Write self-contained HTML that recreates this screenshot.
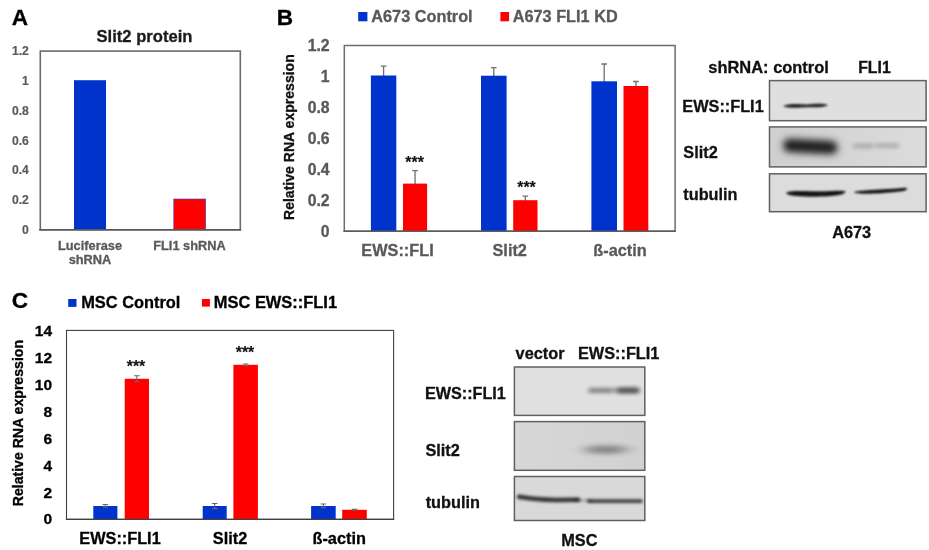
<!DOCTYPE html>
<html><head><meta charset="utf-8"><title>Figure</title>
<style>html,body{margin:0;padding:0;background:#fff}svg{display:block;filter:blur(0.45px)}</style></head>
<body>
<svg width="929" height="550" viewBox="0 0 929 550" font-family="Liberation Sans, sans-serif" font-weight="bold">
<defs>
<linearGradient id="g5"><stop offset="0" stop-color="#d7d7d7"/><stop offset="1" stop-color="#d1d1d1"/></linearGradient>
<linearGradient id="g2"><stop offset="0" stop-color="#d0d0d0"/><stop offset="0.55" stop-color="#d6d6d6"/><stop offset="1" stop-color="#dcdcdc"/></linearGradient>
<filter id="b1" x="-20%" y="-300%" width="140%" height="700%"><feGaussianBlur stdDeviation="1.3"/></filter>
<filter id="b2" x="-20%" y="-300%" width="140%" height="700%"><feGaussianBlur stdDeviation="2.2"/></filter>
<filter id="b3" x="-20%" y="-100%" width="140%" height="300%"><feGaussianBlur stdDeviation="3"/></filter>
<filter id="b4" x="-30%" y="-200%" width="160%" height="500%"><feGaussianBlur stdDeviation="4.5"/></filter>
<filter id="b5" x="-40%" y="-300%" width="180%" height="700%"><feGaussianBlur stdDeviation="6 2.8"/></filter>
<filter id="b6" x="-20%" y="-300%" width="140%" height="700%"><feGaussianBlur stdDeviation="1.8"/></filter>
<filter id="b7" x="-30%" y="-300%" width="160%" height="700%"><feGaussianBlur stdDeviation="2.8 2.2"/></filter>
</defs>
<rect width="929" height="550" fill="#fff"/>
<text x="11.8" y="24.6" font-size="22.6" fill="#000" stroke="#000" stroke-width="0.3" text-anchor="start" >A</text>
<text x="144.5" y="42" font-size="16.6" fill="#1a1a1a" stroke="#1a1a1a" stroke-width="0.3" text-anchor="middle" >Slit2 protein</text>
<rect x="40.3" y="51.1" width="200" height="178.7" fill="#fff" stroke="#6a6a6a" stroke-width="1.6"/>
<text x="28.9" y="55.269999999999996" font-size="12.2" fill="#595959" stroke="#595959" stroke-width="0.15" text-anchor="end" >1.2</text>
<text x="28.9" y="85.05000000000001" font-size="12.2" fill="#595959" stroke="#595959" stroke-width="0.15" text-anchor="end" >1</text>
<text x="28.9" y="114.83000000000001" font-size="12.2" fill="#595959" stroke="#595959" stroke-width="0.15" text-anchor="end" >0.8</text>
<text x="28.9" y="144.61" font-size="12.2" fill="#595959" stroke="#595959" stroke-width="0.15" text-anchor="end" >0.6</text>
<text x="28.9" y="174.39000000000001" font-size="12.2" fill="#595959" stroke="#595959" stroke-width="0.15" text-anchor="end" >0.4</text>
<text x="28.9" y="204.17000000000002" font-size="12.2" fill="#595959" stroke="#595959" stroke-width="0.15" text-anchor="end" >0.2</text>
<text x="28.9" y="233.95000000000002" font-size="12.2" fill="#595959" stroke="#595959" stroke-width="0.15" text-anchor="end" >0</text>
<rect x="74.00" y="80.20" width="32.00" height="149.60" fill="#0033cc" />
<rect x="173.80" y="199.00" width="31.90" height="30.80" fill="#ff0000" stroke="#3344cc" stroke-width="0.6"/>
<line x1="39" y1="229.8" x2="241.1" y2="229.8" stroke="#585858" stroke-width="1.5"/>
<text x="90" y="249.5" font-size="12.8" fill="#595959" stroke="#595959" stroke-width="0.3" text-anchor="middle" >Luciferase</text>
<text x="90" y="264.2" font-size="12.8" fill="#595959" stroke="#595959" stroke-width="0.3" text-anchor="middle" >shRNA</text>
<text x="189.5" y="249.5" font-size="12.8" fill="#595959" stroke="#595959" stroke-width="0.3" text-anchor="middle" >FLI1 shRNA</text>
<text x="276.8" y="24.6" font-size="22.6" fill="#000" stroke="#000" stroke-width="0.3" text-anchor="start" >B</text>
<rect x="358.20" y="12.00" width="9.20" height="9.30" fill="#0033cc" />
<text x="371.3" y="22.4" font-size="16.3" fill="#595959" stroke="#595959" stroke-width="0.3" text-anchor="start" >A673 Control</text>
<rect x="500.40" y="12.00" width="8.70" height="9.30" fill="#ff0000" />
<text x="512.7" y="22.4" font-size="16.3" fill="#595959" stroke="#595959" stroke-width="0.3" text-anchor="start" >A673 FLI1 KD</text>
<rect x="344.3" y="45.5" width="330.8" height="185.7" fill="#fff" stroke="#6c6c6c" stroke-width="1.5"/>
<text x="329.6" y="51.0" font-size="15.8" fill="#595959" stroke="#595959" stroke-width="0.3" text-anchor="end" >1.2</text>
<text x="329.6" y="81.95" font-size="15.8" fill="#595959" stroke="#595959" stroke-width="0.3" text-anchor="end" >1</text>
<text x="329.6" y="112.9" font-size="15.8" fill="#595959" stroke="#595959" stroke-width="0.3" text-anchor="end" >0.8</text>
<text x="329.6" y="143.85" font-size="15.8" fill="#595959" stroke="#595959" stroke-width="0.3" text-anchor="end" >0.6</text>
<text x="329.6" y="174.8" font-size="15.8" fill="#595959" stroke="#595959" stroke-width="0.3" text-anchor="end" >0.4</text>
<text x="329.6" y="205.75" font-size="15.8" fill="#595959" stroke="#595959" stroke-width="0.3" text-anchor="end" >0.2</text>
<text x="329.6" y="236.7" font-size="15.8" fill="#595959" stroke="#595959" stroke-width="0.3" text-anchor="end" >0</text>
<path d="M380.80 66.20H386.40M383.60 66.20V76.50" stroke="#707070" stroke-width="1.3" fill="none"/>
<rect x="370.90" y="75.50" width="25.40" height="155.80" fill="#0033cc" />
<path d="M412.25 170.60H417.85M415.05 170.60V184.60" stroke="#707070" stroke-width="1.3" fill="none"/>
<rect x="403.00" y="183.60" width="24.10" height="47.70" fill="#ff0000" />
<path d="M491.00 67.70H496.60M493.80 67.70V76.70" stroke="#707070" stroke-width="1.3" fill="none"/>
<rect x="481.00" y="75.70" width="25.60" height="155.60" fill="#0033cc" />
<path d="M522.55 196.20H528.15M525.35 196.20V201.20" stroke="#707070" stroke-width="1.3" fill="none"/>
<rect x="513.20" y="200.20" width="24.30" height="31.10" fill="#ff0000" />
<path d="M601.40 64.00H607.00M604.20 64.00V82.30" stroke="#707070" stroke-width="1.3" fill="none"/>
<rect x="591.40" y="81.30" width="25.60" height="150.00" fill="#0033cc" />
<path d="M633.10 81.50H638.70M635.90 81.50V87.00" stroke="#707070" stroke-width="1.3" fill="none"/>
<rect x="623.50" y="86.00" width="24.80" height="145.30" fill="#ff0000" />
<line x1="343.5" y1="231.3" x2="675.9" y2="231.3" stroke="#5c5c5c" stroke-width="1.4"/>
<text x="414.6" y="168" font-size="15.9" fill="#111" stroke="#111" stroke-width="0.15" text-anchor="middle" >***</text>
<text x="526.5" y="193" font-size="15.9" fill="#111" stroke="#111" stroke-width="0.15" text-anchor="middle" >***</text>
<text x="397.5" y="255.9" font-size="16.3" fill="#595959" stroke="#595959" stroke-width="0.3" text-anchor="middle" >EWS::FLI</text>
<text x="509.7" y="255.9" font-size="16.3" fill="#595959" stroke="#595959" stroke-width="0.3" text-anchor="middle" >Slit2</text>
<text x="620" y="255.9" font-size="16.3" fill="#595959" stroke="#595959" stroke-width="0.3" text-anchor="middle" >ß-actin</text>
<text transform="translate(294,220) rotate(-90)" font-size="14.05" fill="#111" stroke="#111" stroke-width="0.3">Relative RNA expression</text>
<text x="708.3" y="72.5" font-size="16.45" fill="#111" stroke="#111" stroke-width="0.3" text-anchor="start" >shRNA: control</text>
<text x="858.2" y="72.5" font-size="15.8" fill="#111" stroke="#111" stroke-width="0.3" text-anchor="start" >FLI1</text>
<text x="682.3" y="112" font-size="16.3" fill="#111" stroke="#111" stroke-width="0.3" text-anchor="start" >EWS::FLI1</text>
<text x="683.3" y="157.6" font-size="16.3" fill="#111" stroke="#111" stroke-width="0.3" text-anchor="start" >Slit2</text>
<text x="683.3" y="200" font-size="16.3" fill="#111" stroke="#111" stroke-width="0.3" text-anchor="start" >tubulin</text>
<text x="851.7" y="237.6" font-size="16.3" fill="#111" stroke="#111" stroke-width="0.3" text-anchor="middle" >A673</text>
<clipPath id="c1"><rect x="769.5" y="80.6" width="156.60" height="40.10"/></clipPath>
<rect x="769.5" y="80.6" width="156.60" height="40.10" fill="#dfdfdf"/>
<g clip-path="url(#c1)"><path d="M783 106 C789 103.2 800 104.3 806 104.5 C812 104.1 822 102.6 828.5 105 C822 108.3 812 107.1 806 107.3 C800 107.7 789 108.8 783 106Z" fill="#000" opacity="0.85" filter="url(#b1)"/></g>
<rect x="769.5" y="80.6" width="156.60" height="40.10" fill="none" stroke="#606060" stroke-width="1.5"/>
<clipPath id="c2"><rect x="769.5" y="126.9" width="156.60" height="40.00"/></clipPath>
<rect x="769.5" y="126.9" width="156.60" height="40.00" fill="url(#g2)"/>
<g clip-path="url(#c2)"><rect x="781" y="138.6" width="59.00" height="16" rx="8.0" fill="#000" opacity="0.25" filter="url(#b4)" transform="rotate(3 810.5 146.6)"/></g>
<g clip-path="url(#c2)"><rect x="784" y="140.6" width="52.50" height="12" rx="6.0" fill="#000" opacity="0.8" filter="url(#b3)" transform="rotate(3 810.25 146.6)"/></g>
<g clip-path="url(#c2)"><rect x="852" y="144.2" width="22.00" height="3.6" rx="1.8" fill="#000" opacity="0.2" filter="url(#b2)" transform="rotate(0 863.0 146)"/></g>
<g clip-path="url(#c2)"><rect x="876" y="143.79999999999998" width="24.00" height="3.6" rx="1.8" fill="#000" opacity="0.18" filter="url(#b2)" transform="rotate(0 888.0 145.6)"/></g>
<g clip-path="url(#c2)"><rect x="856" y="144.55" width="42.00" height="2.5" rx="1.25" fill="#000" opacity="0.1" filter="url(#b2)" transform="rotate(0 877.0 145.8)"/></g>
<rect x="769.5" y="126.9" width="156.60" height="40.00" fill="none" stroke="#606060" stroke-width="1.5"/>
<clipPath id="c3"><rect x="769.5" y="173.8" width="156.60" height="37.90"/></clipPath>
<rect x="769.5" y="173.8" width="156.60" height="37.90" fill="#dcdcdc"/>
<g clip-path="url(#c3)"><path d="M786 193 C788 190.4 800 191 815 191.3 C830 191.3 842 189.8 845.5 191.3 C845.5 195.6 830 196.7 815 196.7 C800 196.7 788 196.2 786 193Z" fill="#000" opacity="0.9" filter="url(#b1)"/></g>
<g clip-path="url(#c3)"><path d="M853.5 192.3 C856 190.2 880 189.8 906.5 187.7 C908 189.5 906 190.9 900 191.5 C880 193.8 858 194.8 853.5 192.3Z" fill="#000" opacity="0.9" filter="url(#b1)"/></g>
<rect x="769.5" y="173.8" width="156.60" height="37.90" fill="none" stroke="#606060" stroke-width="1.5"/>
<text x="11.8" y="308.4" font-size="22.6" fill="#000" stroke="#000" stroke-width="0.3" text-anchor="start" >C</text>
<rect x="68.20" y="299.00" width="8.30" height="7.90" fill="#0033cc" />
<text x="81.2" y="308.3" font-size="16.4" fill="#000" stroke="#000" stroke-width="0.3" text-anchor="start" >MSC Control</text>
<rect x="201.90" y="299.00" width="8.00" height="7.60" fill="#ff0000" />
<text x="213.8" y="308.3" font-size="16.45" fill="#000" stroke="#000" stroke-width="0.3" text-anchor="start" >MSC EWS::FLI1</text>
<rect x="66.5" y="330.4" width="327.1" height="188.9" fill="#fff" stroke="#404040" stroke-width="1.1"/>
<text x="52.1" y="336.25" font-size="15.5" fill="#000" stroke="#000" stroke-width="0.3" text-anchor="end" >14</text>
<text x="52.1" y="363.136" font-size="15.5" fill="#000" stroke="#000" stroke-width="0.3" text-anchor="end" >12</text>
<text x="52.1" y="390.022" font-size="15.5" fill="#000" stroke="#000" stroke-width="0.3" text-anchor="end" >10</text>
<text x="52.1" y="416.908" font-size="15.5" fill="#000" stroke="#000" stroke-width="0.3" text-anchor="end" >8</text>
<text x="52.1" y="443.794" font-size="15.5" fill="#000" stroke="#000" stroke-width="0.3" text-anchor="end" >6</text>
<text x="52.1" y="470.68" font-size="15.5" fill="#000" stroke="#000" stroke-width="0.3" text-anchor="end" >4</text>
<text x="52.1" y="497.56600000000003" font-size="15.5" fill="#000" stroke="#000" stroke-width="0.3" text-anchor="end" >2</text>
<text x="52.1" y="524.452" font-size="15.5" fill="#000" stroke="#000" stroke-width="0.3" text-anchor="end" >0</text>
<rect x="93.30" y="506.00" width="24.10" height="13.30" fill="#0033cc" />
<path d="M102.55 504.50H108.15M102.55 507.30H108.15M105.35 504.50V507.30" stroke="#686868" stroke-width="1.1" fill="none"/>
<rect x="124.70" y="378.80" width="24.30" height="140.50" fill="#ff0000" />
<path d="M134.05 375.80H139.65M134.05 381.80H139.65M136.85 375.80V381.80" stroke="#686868" stroke-width="1.1" fill="none"/>
<rect x="202.70" y="506.00" width="24.00" height="13.30" fill="#0033cc" />
<path d="M211.90 503.50H217.50M211.90 508.60H217.50M214.70 503.50V508.60" stroke="#686868" stroke-width="1.1" fill="none"/>
<rect x="233.40" y="364.80" width="24.50" height="154.50" fill="#ff0000" />
<path d="M242.85 364.00H248.45M242.85 365.80H248.45M245.65 364.00V365.80" stroke="#686868" stroke-width="1.1" fill="none"/>
<rect x="311.10" y="506.00" width="24.60" height="13.30" fill="#0033cc" />
<path d="M320.60 504.00H326.20M320.60 507.80H326.20M323.40 504.00V507.80" stroke="#686868" stroke-width="1.1" fill="none"/>
<rect x="342.20" y="509.80" width="24.60" height="9.50" fill="#ff0000" />
<path d="M351.70 509.30H357.30M351.70 510.30H357.30M354.50 509.30V510.30" stroke="#686868" stroke-width="1.1" fill="none"/>
<line x1="65.9" y1="519.3" x2="394.2" y2="519.3" stroke="#404040" stroke-width="1.2"/>
<text x="136" y="371.5" font-size="15.9" fill="#111" stroke="#111" stroke-width="0.15" text-anchor="middle" >***</text>
<text x="245" y="358" font-size="15.9" fill="#111" stroke="#111" stroke-width="0.15" text-anchor="middle" >***</text>
<text x="120" y="544.3" font-size="16.3" fill="#000" stroke="#000" stroke-width="0.3" text-anchor="middle" >EWS::FLI1</text>
<text x="230" y="544.3" font-size="16.3" fill="#000" stroke="#000" stroke-width="0.3" text-anchor="middle" >Slit2</text>
<text x="339.2" y="544.3" font-size="16.3" fill="#000" stroke="#000" stroke-width="0.3" text-anchor="middle" >ß-actin</text>
<text transform="translate(23,506.3) rotate(-90)" font-size="14.1" fill="#000" stroke="#000" stroke-width="0.3">Relative RNA expression</text>
<text x="515.6" y="358.6" font-size="16.3" fill="#111" stroke="#111" stroke-width="0.3" text-anchor="start" >vector</text>
<text x="578" y="358.6" font-size="16.3" fill="#111" stroke="#111" stroke-width="0.3" text-anchor="start" >EWS::FLI1</text>
<text x="424.9" y="399.2" font-size="16.2" fill="#111" stroke="#111" stroke-width="0.3" text-anchor="start" >EWS::FLI1</text>
<text x="425.4" y="456.1" font-size="16.3" fill="#111" stroke="#111" stroke-width="0.3" text-anchor="start" >Slit2</text>
<text x="425.7" y="508.4" font-size="16.3" fill="#111" stroke="#111" stroke-width="0.3" text-anchor="start" >tubulin</text>
<text x="579.3" y="546.2" font-size="16.3" fill="#111" stroke="#111" stroke-width="0.3" text-anchor="middle" >MSC</text>
<clipPath id="d1"><rect x="514.4" y="367" width="130.40" height="48.40"/></clipPath>
<rect x="514.4" y="367" width="130.40" height="48.40" fill="#e0e0e0"/>
<g clip-path="url(#d1)"><rect x="588" y="388.7" width="52.00" height="3.4" rx="1.7" fill="#000" opacity="0.42" filter="url(#b2)" transform="rotate(0 614.0 390.4)"/></g>
<g clip-path="url(#d1)"><rect x="589" y="388.6" width="23.00" height="4" rx="2.0" fill="#000" opacity="0.22" filter="url(#b2)" transform="rotate(0 600.5 390.6)"/></g>
<g clip-path="url(#d1)"><rect x="617" y="387.8" width="22.00" height="5.4" rx="2.7" fill="#000" opacity="0.55" filter="url(#b7)" transform="rotate(0 628.0 390.5)"/></g>
<rect x="514.4" y="367" width="130.40" height="48.40" fill="none" stroke="#606060" stroke-width="1.5"/>
<clipPath id="d2"><rect x="514.4" y="421.6" width="130.40" height="48.70"/></clipPath>
<rect x="514.4" y="421.6" width="130.40" height="48.70" fill="url(#g5)"/>
<g clip-path="url(#d2)"><ellipse cx="605.6" cy="449.6" rx="20" ry="3.6" fill="#000" opacity="0.33" filter="url(#b5)"/></g>
<g clip-path="url(#d2)"><ellipse cx="607" cy="449.6" rx="30" ry="5" fill="#000" opacity="0.08" filter="url(#b5)"/></g>
<rect x="514.4" y="421.6" width="130.40" height="48.70" fill="none" stroke="#606060" stroke-width="1.5"/>
<clipPath id="d3"><rect x="514.4" y="476.5" width="130.40" height="44.00"/></clipPath>
<rect x="514.4" y="476.5" width="130.40" height="44.00" fill="#d9d9d9"/>
<g clip-path="url(#d3)"><path d="M519 496.8 Q535 499.6 556 500 L578 499.8" stroke="#000" stroke-width="4.6" stroke-linecap="round" fill="none" opacity="0.78" filter="url(#b6)"/></g>
<g clip-path="url(#d3)"><rect x="574" y="499.2" width="18.00" height="2.4" rx="1.2" fill="#000" opacity="0.3" filter="url(#b6)" transform="rotate(0 583.0 500.4)"/></g>
<g clip-path="url(#d3)"><rect x="587" y="499.20000000000005" width="56.00" height="3.8" rx="1.9" fill="#000" opacity="0.72" filter="url(#b6)" transform="rotate(0 615.0 501.1)"/></g>
<rect x="514.4" y="476.5" width="130.40" height="44.00" fill="none" stroke="#606060" stroke-width="1.5"/>
</svg>
</body></html>
